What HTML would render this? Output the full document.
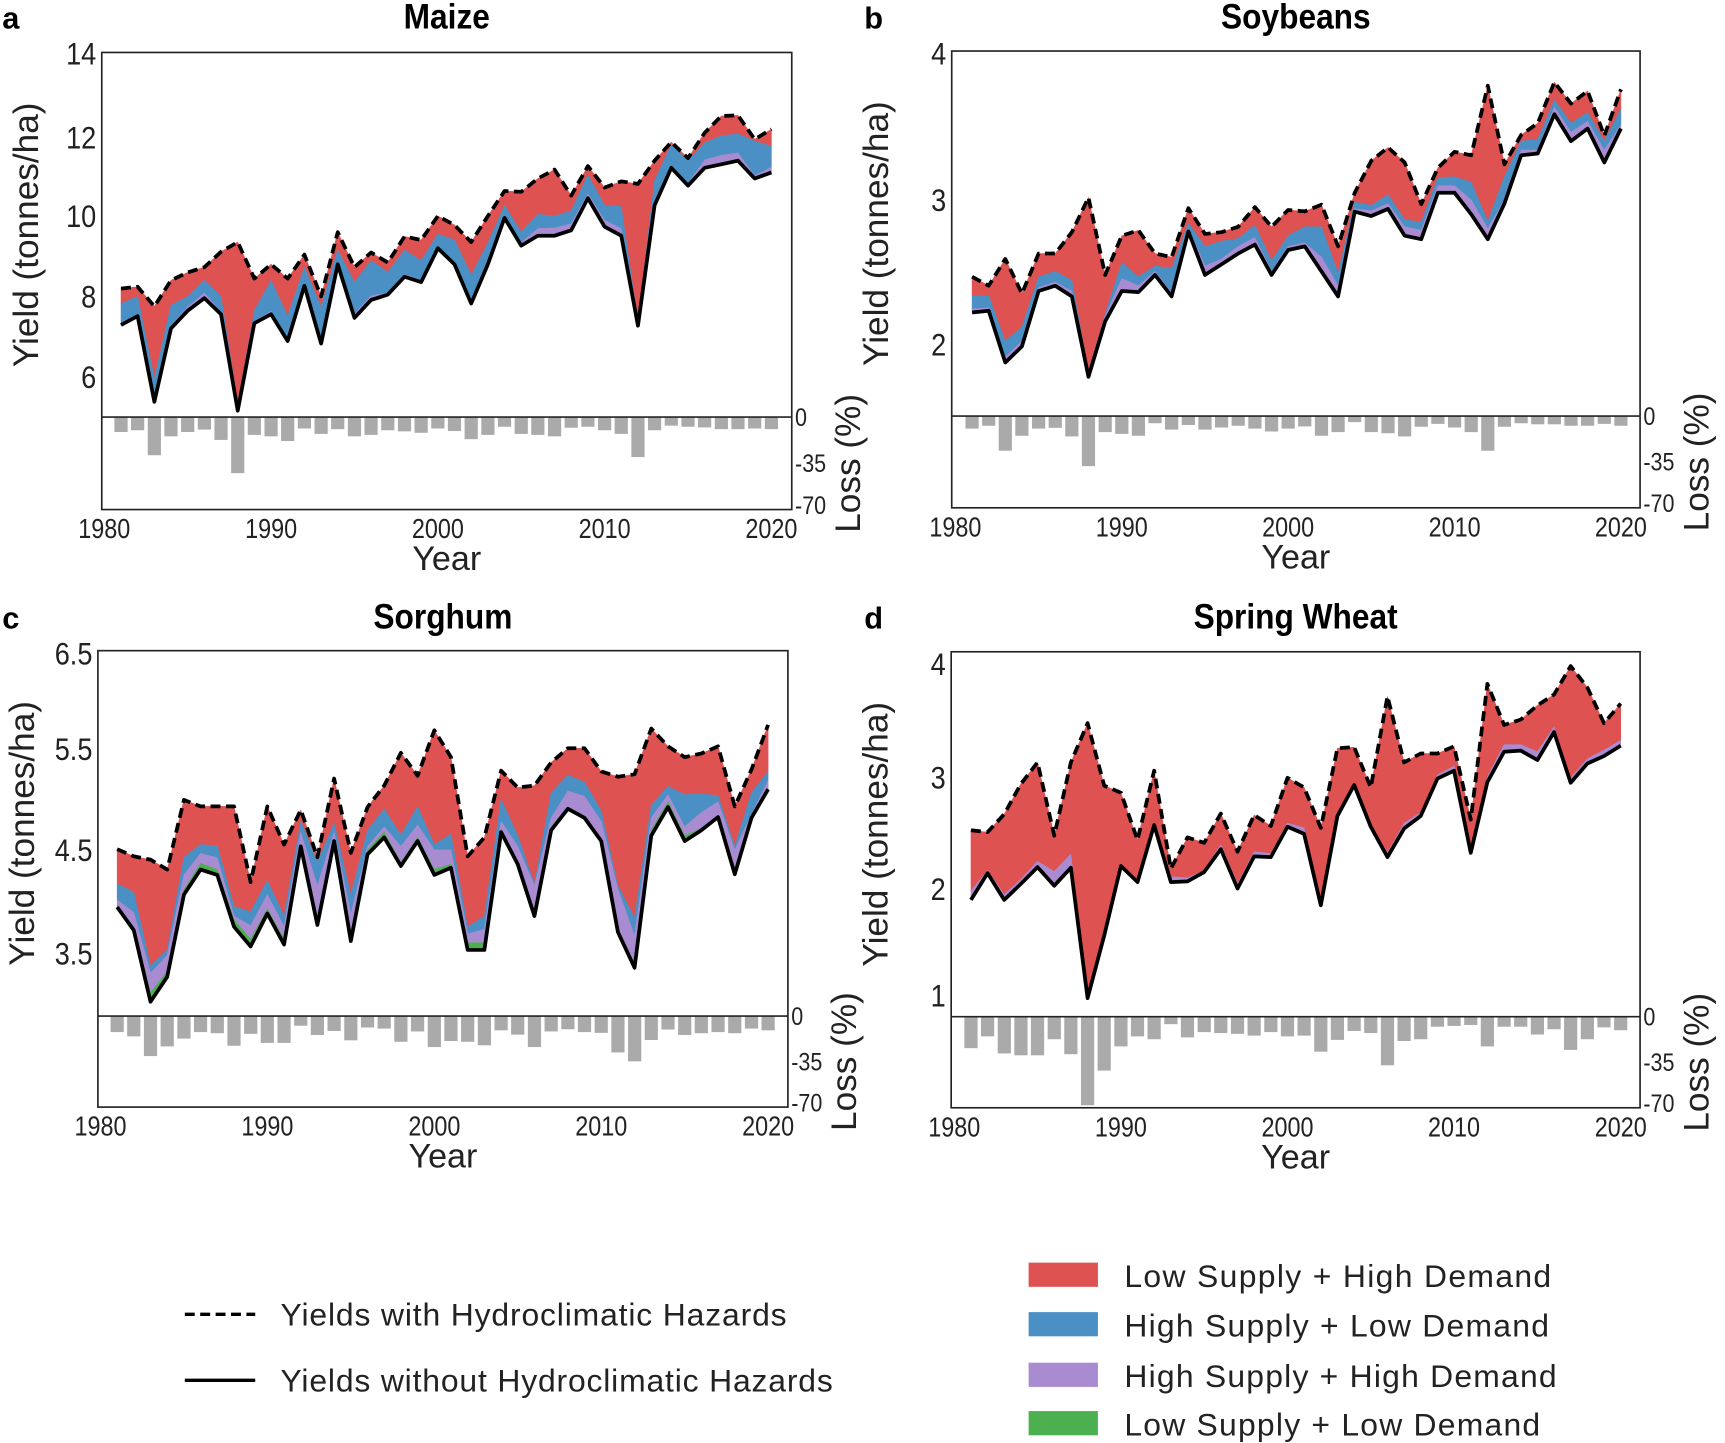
<!DOCTYPE html>
<html><head><meta charset="utf-8">
<style>html,body{margin:0;padding:0;background:#fff;}svg{display:block;}</style>
</head><body>
<svg id="s" xmlns="http://www.w3.org/2000/svg" width="1725" height="1443" viewBox="0 0 1568 1312" preserveAspectRatio="none" font-family="Liberation Sans, sans-serif"></svg>
<script>
const S=document.getElementById('s');let h='';
const C={r:'#df5252',b:'#4a90c4',p:'#a88bd0',g:'#4cb04f'};
const maizeBot=[910,885,1125,920,870,835,880,1150,905,880,955,800,962,740,890,840,825,775,790,695,740,850,740,610,688,660,660,645,555,635,660,912,575,470,520,470,460,450,500,483];
const maizeOff=[5,5,5,8,10,15,6,3,5,8,5,4,4,4,10,12,5,6,4,4,4,8,4,4,8,20,22,18,12,18,20,3,4,4,6,22,25,22,8,15];
const P=[
{ox:0,oy:0,x1:220,st:30.33,fr:[185,147,1440,1427,1168],title:'Maize',L:'a',
ticks:[[14,150],[12,385],[10,605],[8,830],[6,1055]],
top:[808,803,858,785,763,748,705,678,780,740,780,713,830,650,748,707,735,662,672,605,630,678,605,535,537,500,475,548,465,525,508,515,450,398,443,372,325,323,390,362],
blue:[850,830,1060,855,830,785,830,1130,870,785,885,748,860,700,790,730,762,700,730,655,672,770,680,575,650,600,605,590,490,575,578,900,505,405,450,400,380,375,395,410],
pur:maizeBot.map((v,i)=>v-maizeOff[i]),
bot:maizeBot,
loss:[1210,1205,1275,1222,1210,1203,1232,1325,1218,1222,1235,1200,1215,1202,1222,1218,1205,1208,1212,1200,1207,1230,1218,1195,1215,1218,1222,1198,1195,1205,1215,1280,1205,1192,1195,1197,1202,1202,1200,1202]},
{ox:783.6,oy:0,x1:200,st:30.26,fr:[163,143,1415,1422,1165],title:'Soybeans',L:'b',
ticks:[[4,150],[3,560],[2,965]],
top:[775,800,725,822,710,710,650,553,770,660,645,710,720,583,655,650,635,580,635,588,592,573,690,540,450,413,455,572,470,425,435,240,460,378,345,230,290,255,380,250],
blue:[828,828,955,915,775,760,785,1040,880,735,775,745,752,625,690,675,668,630,730,660,635,635,765,565,575,545,615,622,497,495,510,620,495,395,390,280,345,315,395,305],
pur:[865,862,1000,955,805,790,815,1050,885,780,800,760,820,640,745,725,690,665,760,690,680,720,800,585,590,570,635,645,520,520,560,640,560,420,420,300,370,340,420,350],
bot:[875,870,1015,970,815,800,830,1055,900,815,818,770,830,648,770,740,710,685,770,700,690,760,830,593,605,585,660,670,540,540,600,670,570,435,430,320,395,360,455,360],
loss:[1200,1192,1262,1220,1200,1198,1222,1305,1210,1215,1220,1185,1203,1190,1203,1197,1192,1200,1208,1200,1194,1220,1210,1182,1210,1213,1222,1195,1187,1197,1210,1262,1195,1185,1188,1188,1192,1192,1187,1192]},
{ox:0,oy:545.5,x1:213,st:30.36,fr:[178,142,1433,1420,1165],title:'Sorghum',L:'c',
ticks:[['6.5',150],['5.5',418],['4.5',700],['3.5',990]],
top:[698,718,727,755,560,578,578,578,790,578,685,588,720,500,708,580,520,428,492,365,440,718,665,478,525,520,455,415,415,480,495,488,360,410,440,430,410,578,475,350],
blue:[795,818,1025,980,720,685,688,858,873,785,885,620,735,625,825,645,585,658,578,685,655,915,885,558,660,795,540,490,510,590,800,890,575,522,545,543,548,690,540,480],
pur:[840,875,1045,995,770,710,722,885,912,825,915,650,800,650,880,690,635,690,630,700,700,935,922,620,690,800,610,535,550,620,810,940,610,545,635,595,565,700,600,505],
grn:[855,915,1100,1040,812,738,755,895,950,865,950,685,900,670,945,700,650,735,665,755,740,960,960,643,735,870,635,580,605,670,920,1020,645,565,660,640,615,762,600,528],
bot:[860,925,1125,1055,825,755,770,915,970,878,965,690,910,675,955,712,665,745,675,770,750,980,980,650,740,885,645,585,610,675,930,1030,660,580,675,645,608,768,610,530],
loss:[1210,1222,1277,1250,1228,1210,1213,1248,1215,1240,1240,1192,1218,1207,1233,1197,1200,1237,1208,1252,1235,1237,1247,1205,1217,1252,1208,1202,1210,1212,1267,1292,1232,1203,1218,1213,1210,1213,1200,1205]},
{ox:783.6,oy:545.5,x1:198,st:30.3,fr:[162,145,1415,1422,1167],title:'Spring Wheat',L:'d',
ticks:[[4,180],[3,497],[2,810],[1,1108]],
top:[645,650,600,515,455,660,455,345,520,540,672,478,752,665,680,598,705,602,633,498,525,638,415,412,525,270,455,430,430,410,615,235,350,335,295,265,185,245,345,290],
pur:[815,757,825,782,732,760,712,1110,940,748,785,628,775,778,758,685,795,705,710,625,638,850,600,517,630,708,625,595,490,465,700,495,405,405,425,355,498,445,420,393],
bot:[840,765,840,795,748,800,750,1115,940,745,790,630,790,788,762,698,808,718,720,635,655,855,605,518,635,720,640,605,500,478,708,510,425,422,448,370,512,458,437,408],
loss:[1255,1222,1270,1275,1275,1230,1272,1415,1318,1250,1222,1230,1188,1225,1210,1213,1215,1220,1210,1222,1220,1265,1232,1207,1213,1303,1235,1230,1195,1193,1190,1250,1195,1195,1217,1202,1260,1230,1197,1205]}
];
const K=0.4998,KY=0.3247;
function nt(x,y,size,txt,anchor,extra){ // narrow text
 return `<text transform="translate(${x},${y}) scale(0.85,1)" font-size="${size}" fill="#222" text-anchor="${anchor}" ${extra||''}>${txt}</text>`;}
for(const p of P){
 const X=z=>(p.ox+z*K).toFixed(1),Y=z=>(p.oy+z*KY).toFixed(1);
 const xs=i=>p.x1+i*p.st;
 const pur=p.pur||p.bot, grn=p.grn||p.bot, blue=p.blue||pur;
 const band=(a,b,c)=>{let d='M';for(let i=0;i<40;i++)d+=X(xs(i))+','+Y(a[i])+' L';for(let i=39;i>=0;i--)d+=X(xs(i))+','+Y(b[i])+(i?' L':' Z');h+=`<path d="${d}" fill="${c}" stroke="${c}" stroke-width="0.5"/>`;};
 const line=(a,ex)=>{let d='';for(let i=0;i<40;i++)d+=(i?'L':'M')+X(xs(i))+','+Y(a[i]);h+=`<path d="${d}" fill="none" stroke="#000" stroke-width="3.4" stroke-linejoin="round" ${ex||''}/>`;};
 band(p.top,blue,C.r);
 if(p.blue)band(blue,pur,C.b);
 band(pur,grn,C.p);
 if(p.grn)band(grn,p.bot,C.g);
 line(p.top,'stroke-dasharray="9,5"');line(p.bot);
 const f=p.fr;
 for(let i=0;i<40;i++){const x=xs(i);h+=`<rect x="${X(x-12)}" y="${Y(f[4])}" width="${(24*K).toFixed(1)}" height="${((p.loss[i]-f[4])*KY).toFixed(1)}" fill="#aaaaaa"/>`;}
 h+=`<rect x="${X(f[0])}" y="${Y(f[1])}" width="${((f[2]-f[0])*K).toFixed(1)}" height="${((f[3]-f[1])*KY).toFixed(1)}" fill="none" stroke="#222" stroke-width="1.5"/>`;
 h+=`<line x1="${X(f[0])}" x2="${X(f[2])}" y1="${Y(f[4])}" y2="${Y(f[4])}" stroke="#222" stroke-width="1.5"/>`;
 for(const t of p.ticks)h+=nt((p.ox+f[0]*K-5).toFixed(1),(+Y(t[1])+10).toFixed(1),29,t[0],'end');
 const lx=(p.ox+f[2]*K+3).toFixed(1);
 const yb=(p.oy+f[4]*KY),yt=(p.oy+f[3]*KY);
 h+=nt(lx,(yb+8).toFixed(1),23,'0','start');
 h+=nt(lx,((yb+yt)/2+8).toFixed(1),23,'-35','start');
 h+=nt(lx,(yt+4).toFixed(1),23,'-70','start');
 for(let k=0;k<5;k++){const x=xs(-1)+k*10*p.st;h+=nt(X(x),(yt+26).toFixed(1),25,1980+k*10,'middle');}
 const cx=(p.ox+(f[0]+f[2])/2*K);
 h+=`<text x="${cx.toFixed(1)}" y="${(yt+55).toFixed(1)}" font-size="31" fill="#222" text-anchor="middle">Year</text>`;
 h+=`<text transform="translate(${cx.toFixed(1)},${(p.oy+26).toFixed(1)}) scale(0.9,1)" font-size="32" font-weight="bold" fill="#000" text-anchor="middle">${p.title}</text>`;
 h+=`<text x="${(p.ox+2).toFixed(1)}" y="${(p.oy+26).toFixed(1)}" font-size="28" font-weight="bold" fill="#000">${p.L}</text>`;
 const ymid=(p.oy+(f[1]+f[4])/2*KY);const ax=(p.ox+(f[0]*K)-58);
 h+=`<text transform="translate(${ax.toFixed(1)},${ymid.toFixed(1)}) rotate(-90)" font-size="32" fill="#222" text-anchor="middle">Yield (tonnes/ha)</text>`;
 const rx=(p.ox+f[2]*K+62);
 h+=`<text transform="translate(${rx.toFixed(1)},${((yb+yt)/2).toFixed(1)}) rotate(-90)" font-size="32" fill="#222" text-anchor="middle">Loss (%)</text>`;
}
h+=`<line x1="168" x2="232" y1="1195" y2="1195" stroke="#000" stroke-width="3" stroke-dasharray="9,5"/>`;
h+=`<text x="255" y="1205" font-size="29" fill="#222" textLength="460">Yields with Hydroclimatic Hazards</text>`;
h+=`<line x1="168" x2="232" y1="1255" y2="1255" stroke="#000" stroke-width="3"/>`;
h+=`<text x="255" y="1265" font-size="29" fill="#222" textLength="502">Yields without Hydroclimatic Hazards</text>`;
const LG=[[C.r,1148,'Low Supply + High Demand',388],[C.b,1193,'High Supply + Low Demand',386],[C.p,1239,'High Supply + High Demand',393],[C.g,1283,'Low Supply + Low Demand',378]];
for(const l of LG){h+=`<rect x="935" y="${l[1]}" width="63" height="22" fill="${l[0]}"/><text x="1022" y="${l[1]+22}" font-size="29" fill="#222" textLength="${l[3]}">${l[2]}</text>`;}
S.innerHTML=h;
</script>
</body></html>
